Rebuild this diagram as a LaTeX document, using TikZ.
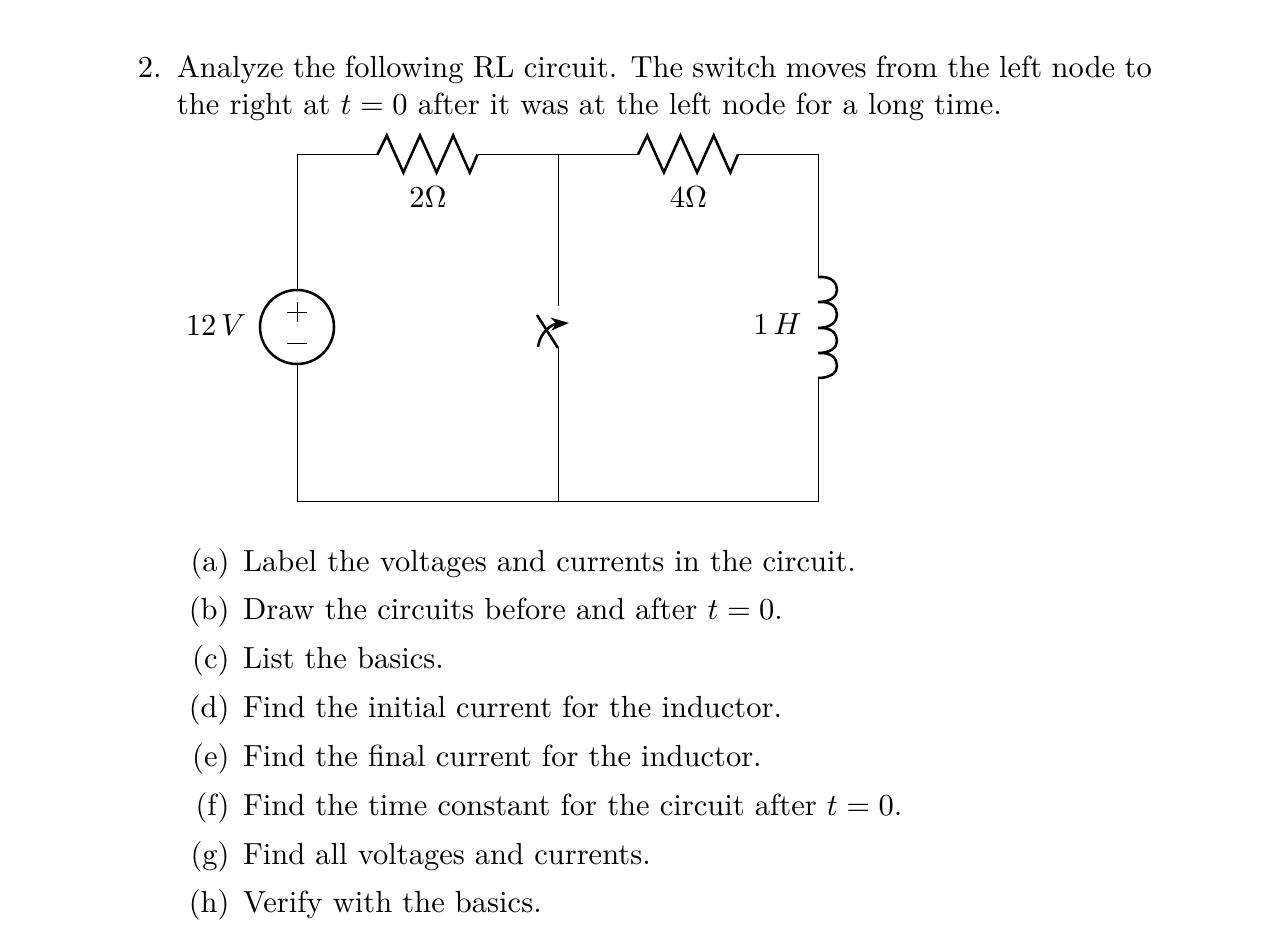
\documentclass[tikz,border=0pt]{standalone}
\usetikzlibrary{arrows.meta,calc}
\tikzset{
  wire/.style={line width=0.38pt,black},
  comp/.style={line width=1pt,black,line join=miter},
  thin sign/.style={line width=0.35pt,black},
  txt/.style={anchor=base west,inner sep=0pt,outer sep=0pt,scale=1.196,transform shape,font=\fontsize{10}{12}\selectfont},
  lab/.style={anchor=base east,inner sep=0pt,outer sep=0pt,scale=1.196,transform shape,font=\fontsize{10}{12}\selectfont},
  val/.style={inner sep=0pt,outer sep=0pt,scale=1.196,transform shape,font=\fontsize{10}{12}\selectfont},
  source/.style={circle,draw,line width=1pt,minimum size=29pt,inner sep=0pt}
}
\begin{document}
\begin{tikzpicture}[x=0.392pt,y=-0.392pt]
\useasboundingbox (0,0) rectangle (1284,940);
% text
\node[lab] (n2) at (161.5,78) {2.};
\node[txt] (l1) at (177,78) {\makebox[319.5pt][s]{Analyze the following RL circuit. The switch moves from the left node to}};
\node[txt] (l2) at (177,115) {the right at $t=0$ after it was at the left node for a long time.};
\node[lab] (la) at (229.5,572) {(a)};
\node[txt] (ta) at (243,572) {Label the voltages and currents in the circuit.};
\node[lab] (lb) at (229.5,620) {(b)};
\node[txt] (tb) at (243,620) {Draw the circuits before and after $t=0$.};
\node[lab] (lc) at (229.5,669) {(c)};
\node[txt] (tc) at (243,669) {List the basics.};
\node[lab] (ld) at (229.5,718) {(d)};
\node[txt] (td) at (243,718) {Find the initial current for the inductor.};
\node[lab] (le) at (229.5,767) {(e)};
\node[txt] (te) at (243,767) {Find the final current for the inductor.};
\node[lab] (lf) at (229.5,816) {(f)};
\node[txt] (tf) at (243,816) {Find the time constant for the circuit after $t=0$.};
\node[lab] (lg) at (229.5,865) {(g)};
\node[txt] (tg) at (243,865) {Find all voltages and currents.};
\node[lab] (lh) at (229.5,913) {(h)};
\node[txt] (th) at (243,913) {Verify with the basics.};
% circuit points
\coordinate (tl) at (297,154.5);
\coordinate (tm) at (558,154.5);
\coordinate (tr) at (818,154.5);
\coordinate (bl) at (297,501.5);
\coordinate (bm) at (558,501.5);
\coordinate (br) at (818,501.5);
\coordinate (r1a) at (377.5,154.5);
\coordinate (r1b) at (477.5,154.5);
\coordinate (r2a) at (638,154.5);
\coordinate (r2b) at (738,154.5);
\coordinate (swa) at (558,306);
\coordinate (swb) at (558,348);
\coordinate (la1) at (818,277);
\coordinate (la2) at (818,378);
\node[source] (vs) at (297,327) {};
% wires
\draw[wire] (vs.north) -- (tl) -- (r1a);
\draw[wire] (r1b) -- (tm) -- (r2a);
\draw[wire] (r2b) -- (tr) -- (la1);
\draw[wire] (la2) -- (br) -- (bm) -- (bl) -- (vs.south);
\draw[wire] (tm) -- (swa);
\draw[wire] (swb) -- (bm);
% resistors
\draw[comp] (r1a) -- ++(9.3,-19) -- ++(16.6,37) -- ++(16.6,-37) -- ++(16.6,37) -- ++(16.6,-37) -- ++(16.6,37) -- (r1b);
\draw[comp] (r2a) -- ++(9.3,-19) -- ++(16.6,37) -- ++(16.6,-37) -- ++(16.6,37) -- ++(16.6,-37) -- ++(16.6,37) -- (r2b);
% source signs
\draw[thin sign] ($(vs)+(-10,-15)$) -- ($(vs)+(10,-15)$);
\draw[thin sign] ($(vs)+(0,-25)$) -- ($(vs)+(0,-5)$);
\draw[thin sign] ($(vs)+(-10,16)$) -- ($(vs)+(10,16)$);
% switch
\draw[comp] (swb) -- (537,315);
\draw[comp,-{Stealth[length=7pt,width=5pt,inset=2pt]}] (538,347) .. controls (540,332) and (552,324) .. (569,323);
% inductor
\draw[comp] (la1) .. controls (832,276) and (837,283) .. (837,290)
  .. controls (837,297) and (830,302) .. (818,302)
  .. controls (832,301) and (837,308) .. (837,315)
  .. controls (837,322) and (830,328) .. (818,328)
  .. controls (832,327) and (837,334) .. (837,341)
  .. controls (837,348) and (830,353) .. (818,353)
  .. controls (832,352) and (837,359) .. (837,366)
  .. controls (837,373) and (830,378) .. (la2);
% labels
\node[val,anchor=base] (v1) at (428,208) {$2\Omega$};
\node[val,anchor=base] (v2) at (688.5,208) {$4\Omega$};
\node[val,anchor=base east] (v3) at (246,336) {$12\,V$};
\node[val,anchor=base east] (v4) at (801.5,335) {$1\,H$};
\end{tikzpicture}
\end{document}
